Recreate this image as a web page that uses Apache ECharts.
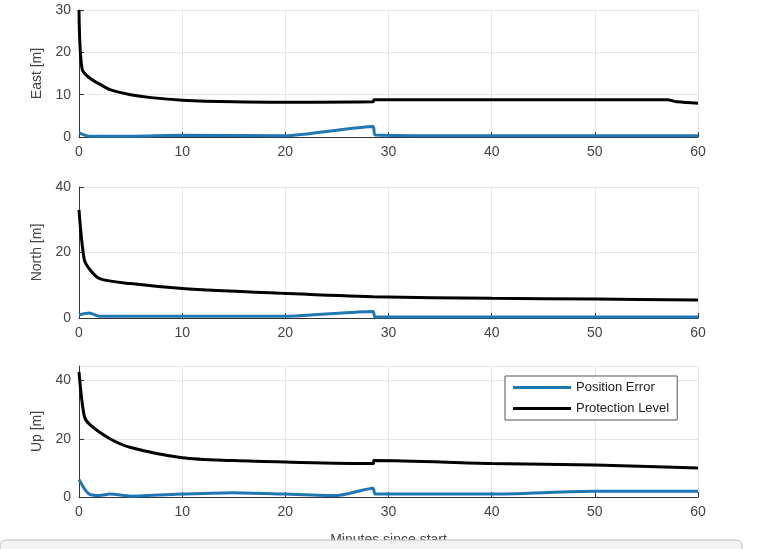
<!DOCTYPE html>
<html>
<head>
<meta charset="utf-8">
<script src="https://cdn.jsdelivr.net/npm/echarts@6/dist/echarts.min.js"></script>
<style>html,body{margin:0;padding:0;background:#fff}#chart{width:768px;height:549px}</style>
</head>
<body>
<div id="chart"></div>
<script>
var eastPL_x = [0, 0.3, 1, 2, 3, 5, 7, 10, 15, 20, 28.5, 28.6, 35, 45, 57, 58, 60];
var eastPL_y = [30, 16, 14, 12.5, 11.2, 10, 9.3, 8.7, 8.3, 8.2, 8.3, 8.8, 8.8, 8.8, 8.8, 8.3, 8];
var eastPE_x = [0, 1, 5, 10, 20, 28.5, 28.7, 40, 60];
var eastPE_y = [1, 0.2, 0.2, 0.4, 0.3, 2.5, 0.5, 0.3, 0.3];
var northPL_x = [0, 0.5, 1, 2, 5, 10, 20, 28.5, 40, 50, 60];
var northPL_y = [33, 18, 15, 12, 10.5, 9, 7.5, 6.5, 6, 5.8, 5.5];
var northPE_x = [0, 1, 2, 10, 20, 28.5, 28.7, 60];
var northPE_y = [1, 1.5, 0.5, 0.5, 0.5, 2, 0.3, 0.3];
var upPL_x = [0, 0.5, 1, 3, 5, 10, 15, 20, 28.5, 28.6, 40, 50, 60];
var upPL_y = [43, 28, 25, 20, 17, 13.5, 12.5, 12, 11.5, 12.5, 11.5, 11, 10];
var upPE_x = [0, 0.5, 1, 2, 3, 5, 10, 15, 20, 25, 28.5, 28.7, 40, 50, 60];
var upPE_y = [6, 3, 1, 0.5, 1, 0.3, 1, 1.5, 1, 0.5, 3, 1, 1, 2, 2];
var yNames = ['East [m]', 'North [m]', 'Up [m]'];
var yMax = [30, 40, 45];

function pairs(xs, ys) {
    return xs.map(function (x, i) { return [x, ys[i]]; });
}

var chart = echarts.init(document.getElementById('chart'));
var grids = [
    {left: 79, width: 619, top: 10, height: 127},
    {left: 79, width: 619, top: 187, height: 131},
    {left: 79, width: 619, top: 366, height: 131}
];
var axisText = {color: '#444', fontSize: 14, fontFamily: 'Liberation Sans'};
var xAxes = [], yAxes = [];
for (var i = 0; i < 3; i++) {
    xAxes.push({
        type: 'value', gridIndex: i, min: 0, max: 60, interval: 10,
        axisLine: {onZero: false, lineStyle: {color: '#333'}},
        axisTick: {inside: true, lineStyle: {color: '#333'}},
        axisLabel: axisText,
        splitLine: {lineStyle: {color: '#e6e6e6'}},
        name: i == 2 ? 'Minutes since start' : '',
        nameLocation: 'middle', nameGap: 36,
        nameTextStyle: {color: '#444', fontSize: 14, fontFamily: 'Liberation Sans'}
    });
    yAxes.push({
        type: 'value', gridIndex: i, min: 0, max: yMax[i], interval: i == 0 ? 10 : 20,
        name: yNames[i], nameLocation: 'middle', nameGap: 32,
        nameTextStyle: {color: '#444', fontSize: 14, fontFamily: 'Liberation Sans'},
        axisLine: {show: true, lineStyle: {color: '#333'}},
        axisTick: {inside: true, lineStyle: {color: '#333'}},
        axisLabel: Object.assign({showMaxLabel: i != 2}, axisText),
        splitLine: {lineStyle: {color: '#e6e6e6'}}
    });
}
var pe = [pairs(eastPE_x, eastPE_y), pairs(northPE_x, northPE_y), pairs(upPE_x, upPE_y)];
var pl = [pairs(eastPL_x, eastPL_y), pairs(northPL_x, northPL_y), pairs(upPL_x, upPL_y)];
var series = [];
for (var j = 0; j < 3; j++) {
    series.push({name: 'Position Error', type: 'line', xAxisIndex: j, yAxisIndex: j, data: pe[j],
        showSymbol: false, lineStyle: {color: '#1f77b4', width: 3}, itemStyle: {color: '#1f77b4'}, smooth: 0.2});
    series.push({name: 'Protection Level', type: 'line', xAxisIndex: j, yAxisIndex: j, data: pl[j],
        showSymbol: false, lineStyle: {color: '#000', width: 3}, itemStyle: {color: '#000'}, smooth: 0.3});
}
chart.setOption({
    animation: false,
    grid: grids,
    xAxis: xAxes,
    yAxis: yAxes,
    legend: {
        data: ['Position Error', 'Protection Level'],
        orient: 'vertical', left: 505, top: 376, itemGap: 8,
        itemWidth: 58, itemHeight: 3, icon: 'rect',
        backgroundColor: '#fff', borderColor: '#555', borderWidth: 1, padding: [5, 8],
        textStyle: {color: '#222', fontSize: 13, fontFamily: 'Liberation Sans'}
    },
    series: series,
    graphic: [{
        type: 'rect', shape: {x: 0, y: 540, width: 742, height: 20, r: 6},
        style: {fill: '#f3f3f3', stroke: '#bbb'}, z: 100
    }]
});
</script>
</body>
</html>
